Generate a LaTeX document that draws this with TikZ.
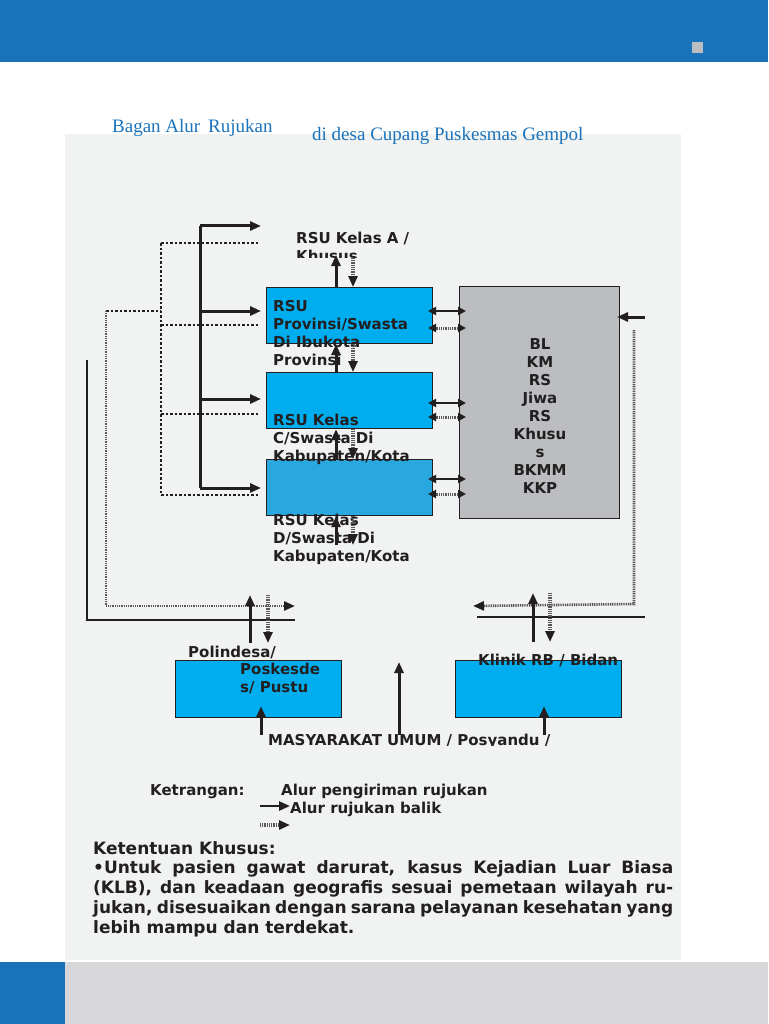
\documentclass[tikz,border=0pt]{standalone}
\usepackage{fontspec}
\setmainfont{DejaVu Sans}
\newfontfamily\titlefont{Liberation Serif}
\usetikzlibrary{arrows.meta}
\definecolor{topblue}{RGB}{26,115,186}
\definecolor{panel}{RGB}{241,242,242}
\definecolor{cyanbox}{RGB}{0,174,239}
\definecolor{cyanbox2}{RGB}{41,168,224}
\definecolor{graybox}{RGB}{188,189,192}
\definecolor{txt}{RGB}{35,31,32}
\tikzset{
  lbl/.style={font=\bfseries\fontsize{15}{18}\selectfont, text=txt, inner sep=0pt, align=left, anchor=north west},
  boxs/.style={draw=txt, line width=1.2pt},
  sol/.style={txt, line width=3pt, -{Triangle[length=11pt,width=9pt]}},
  sol2/.style={txt, line width=2.6pt, {Triangle[length=8pt,width=8pt]}-{Triangle[length=8pt,width=8pt]}},
  dots/.style={txt!75, line width=3.2pt, dash pattern=on 1pt off 0.8pt, -{Triangle[length=11pt,width=9pt,fill=txt,color=txt]}},
  dots2/.style={txt!75, line width=3pt, dash pattern=on 1pt off 0.8pt, {Triangle[length=8pt,width=8pt,fill=txt,color=txt]}-{Triangle[length=8pt,width=8pt,fill=txt,color=txt]}},
  dl/.style={txt, line width=1.5pt, dash pattern=on 2.5pt off 2pt},
  sl/.style={txt, line width=3pt},
}
\begin{document}
\begin{tikzpicture}[x=1pt,y=-1pt]
\useasboundingbox (0,0) rectangle (768,1024);
\fill[white] (0,0) rectangle (768,1024);
\fill[topblue] (0,0) rectangle (768,62);
\fill[graybox] (692,42) rectangle (703,53);
\fill[panel] (65,134) rectangle (681,960);
\fill[graybox!60] (65,962) rectangle (768,1024);
\fill[topblue] (0,962) rectangle (65,1024);
\node[anchor=base west, inner sep=0pt, text=topblue, font=\titlefont\fontsize{19}{20}\selectfont] (t1) at (112,133) {Bagan Alur\, Rujukan};
\node[anchor=base west, inner sep=0pt, text=topblue, font=\titlefont\fontsize{19}{20}\selectfont] (t2) at (312,141) {di desa Cupang Puskesmas Gempol};

% boxes
\node[boxs, fill=cyanbox, minimum width=166pt, minimum height=56pt, anchor=north west] (bp) at (266,287) {};
\node[boxs, fill=cyanbox, minimum width=166pt, minimum height=56pt, anchor=north west] (bc) at (266,372) {};
\node[boxs, fill=cyanbox2, minimum width=166pt, minimum height=56pt, anchor=north west] (bd) at (266,459) {};
\node[boxs, fill=graybox, minimum width=160pt, minimum height=232pt, anchor=north west] (bg) at (459,286) {};
\node[boxs, fill=cyanbox, minimum width=166pt, minimum height=57pt, anchor=north west] (bpo) at (175,660) {};
\node[boxs, fill=cyanbox, minimum width=166pt, minimum height=57pt, anchor=north west] (bk) at (455,660) {};

% texts
\node[lbl] (ta) at (296,232) {RSU Kelas A /\\Khusus};
\fill[panel] (290,258) rectangle (420,275);
\node[lbl] (tp) at (273,300) {RSU\\Provinsi/Swasta\\Di Ibukota\\Provinsi};
\node[lbl] (tc) at (273,414) {RSU Kelas\\C/Swasta Di\\Kabupaten/Kota};
\node[lbl] (td) at (273,514) {RSU Kelas\\D/Swasta Di\\Kabupaten/Kota};
\node[lbl, align=center, anchor=north] (tg) at (540,338) {BL\\KM\\RS\\Jiwa\\RS\\Khusu\\s\\BKMM\\KKP};
\node[lbl] (tpo) at (188,646) {Polindesa/};
\node[lbl] (tpo2) at (240,663) {Poskesde\\s/ Pustu};
\node[lbl] (tk) at (478,654) {Klinik RB / Bidan};
\node[lbl] (tm) at (268,734) {MASYARAKAT UMUM / Posyandu /};
\fill[panel] (260,746) rectangle (600,762);

% left tree
\coordinate (l0) at (200,226); \coordinate (l3) at (200,488);
\draw[sl] (l0) -- (l3);
\foreach \y in {226,311,399,488} \draw[sol] (200,\y) -- (261,\y);
\draw[dl] (161,243) -- (161,495);
\foreach \y in {243,325,414,495} \draw[dl] (161,\y) -- (258,\y);
\draw[dl] (106,311) -- (161,311);
\coordinate (pl) at (295,606);
\draw[dots, line width=2.6pt] (106,311) -- (106,606) -- (pl);
\draw[txt, line width=1.2pt] (87,360) -- (87,620) -- (295,620);

% right side
\coordinate (gr) at (617,317);
\draw[sol] (645,317) -- (gr);
\coordinate (kl) at (473,606);
\draw[dots, line width=2.6pt] (634,330) -- (634,604) -- (kl);
\draw[txt, line width=1.2pt] (477,617) -- (645,617);

% vertical arrows between levels
\coordinate (ka) at (336,255);
\draw[sol] (bp.north -| 336,0) -- (ka);
\draw[dots] (353,258) -- (bp.north -| 353,0);
\draw[sol] (bc.north -| 336,0) -- (bp.south -| 336,0);
\draw[dots] (bp.south -| 353,0) -- (bc.north -| 353,0);
\draw[sol] (bd.north -| 336,0) -- (bc.south -| 336,0);
\draw[dots] (bc.south -| 353,0) -- (bd.north -| 353,0);
\draw[sol] (336,545) -- (bd.south -| 336,0);
\draw[dots] (bd.south -| 353,0) -- (353,545);

% horizontal double arrows
\foreach \y in {311,403,479} \draw[sol2] (428,\y) -- (466,\y);
\foreach \y in {328,417,494} \draw[dots2] (428,\y) -- (466,\y);

% bottom arrows
\draw[sol] (250,643) -- (250,595);
\draw[dots] (268,595) -- (268,643);
\draw[sol] (533,642) -- (533,593);
\draw[dots] (550,593) -- (550,642);
\coordinate (mid) at (399,662);
\draw[sol] (399,735) -- (mid);
\draw[sol] (261,735) -- (bpo.south -| 261,0) -- ++(0,-12);
\draw[sol] (544,735) -- (bk.south -| 544,0) -- ++(0,-12);

% legend
\node[lbl] (k1) at (150,784) {Ketrangan:};
\node[lbl] (k2) at (281,784) {Alur pengiriman rujukan};
\node[lbl] (k3) at (290,802) {Alur rujukan balik};
\coordinate (la) at (290,806); \coordinate (lb) at (290,825);
\draw[sol, line width=2.4pt] (260,806) -- (la);
\draw[dots] (260,825) -- (lb);

\node[lbl, font=\bfseries\fontsize{17}{20}\selectfont] (kk) at (93,841) {Ketentuan Khusus:};
\node[anchor=north west, inner sep=0pt, text=txt, text width=580pt, align=justify, font=\bfseries\fontsize{17}{20}\selectfont] (kp) at (93,860)
{\textbullet Untuk pasien gawat darurat, kasus Kejadian Luar Biasa (KLB), dan keadaan geografis sesuai pemetaan wilayah rujukan, disesuaikan dengan sarana pelayanan kesehatan yang lebih mampu dan terdekat.};
\end{tikzpicture}
\end{document}
